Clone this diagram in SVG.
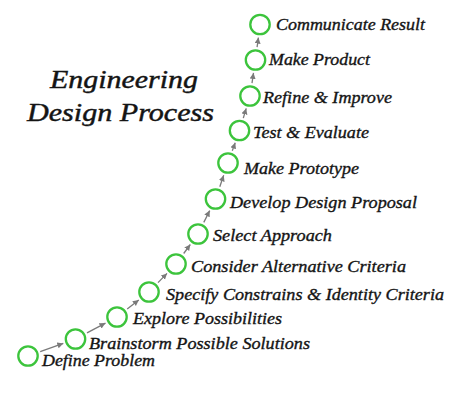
<svg xmlns="http://www.w3.org/2000/svg" width="474" height="401" viewBox="0 0 474 401">
<defs>
<style>
.node circle{fill:#fff;stroke:#3cc43c;stroke-width:2.3}
.lbl{font-size:17px;fill:#141414;stroke:#141414;stroke-width:0.35}
.ttl{font-size:26px;fill:#141414;stroke:#141414;stroke-width:0.45}
.conn line{stroke:#7a7a7a;stroke-width:1.3;fill:none}
</style>
<marker id="ah" markerUnits="userSpaceOnUse" markerWidth="8" markerHeight="8" refX="6" refY="3" orient="auto">
<path d="M0,0 L6,3 L0,6 Z" fill="#7a7a7a"/>
</marker>
</defs>
<rect width="474" height="401" fill="#fff"/>
<g font-family="Liberation Serif, serif" font-style="italic">
<g id="title">
<text class="ttl" x="50" y="88" textLength="148" lengthAdjust="spacingAndGlyphs">Engineering</text>
<text class="ttl" x="27" y="121" textLength="187" lengthAdjust="spacingAndGlyphs">Design Process</text>
</g>
<g id="connectors" class="conn">
<line x1="40.2" y1="351.6" x2="63.3" y2="343.4" marker-end="url(#ah)"/>
<line x1="87" y1="332.9" x2="105.5" y2="323.1" marker-end="url(#ah)"/>
<line x1="127.2" y1="309" x2="138.8" y2="300" marker-end="url(#ah)"/>
<line x1="158" y1="282.6" x2="167" y2="273.4" marker-end="url(#ah)"/>
<line x1="183.7" y1="253.5" x2="190.3" y2="244.5" marker-end="url(#ah)"/>
<line x1="203.8" y1="222.4" x2="209.7" y2="210.6" marker-end="url(#ah)"/>
<line x1="219.8" y1="186.7" x2="223.7" y2="175.3" marker-end="url(#ah)"/>
<line x1="232.3" y1="150.8" x2="235.2" y2="142.7" marker-end="url(#ah)"/>
<line x1="243.3" y1="118.1" x2="246.2" y2="108.4" marker-end="url(#ah)"/>
<line x1="252" y1="83.1" x2="253.5" y2="72.9" marker-end="url(#ah)"/>
<line x1="257.1" y1="47.1" x2="258.4" y2="37.6" marker-end="url(#ah)"/>
</g>
<g id="n1" class="node"><circle cx="28" cy="356" r="9.7"/><text class="lbl" x="42" y="366" textLength="113" lengthAdjust="spacingAndGlyphs">Define Problem</text></g>
<g id="n2" class="node"><circle cx="75.5" cy="339" r="9.7"/><text class="lbl" x="89" y="349" textLength="221" lengthAdjust="spacingAndGlyphs">Brainstorm Possible Solutions</text></g>
<g id="n3" class="node"><circle cx="117" cy="317" r="9.7"/><text class="lbl" x="133" y="324" textLength="149" lengthAdjust="spacingAndGlyphs">Explore Possibilities</text></g>
<g id="n4" class="node"><circle cx="149" cy="292" r="9.7"/><text class="lbl" x="166" y="300" textLength="278" lengthAdjust="spacingAndGlyphs">Specify Constrains &amp; Identity Criteria</text></g>
<g id="n5" class="node"><circle cx="176" cy="264" r="9.7"/><text class="lbl" x="191" y="272" textLength="215" lengthAdjust="spacingAndGlyphs">Consider Alternative Criteria</text></g>
<g id="n6" class="node"><circle cx="198" cy="234" r="9.7"/><text class="lbl" x="213" y="241" textLength="119" lengthAdjust="spacingAndGlyphs">Select Approach</text></g>
<g id="n7" class="node"><circle cx="215.5" cy="199" r="9.7"/><text class="lbl" x="230" y="208" textLength="187" lengthAdjust="spacingAndGlyphs">Develop Design Proposal</text></g>
<g id="n8" class="node"><circle cx="228" cy="163" r="9.7"/><text class="lbl" x="244" y="174" textLength="115" lengthAdjust="spacingAndGlyphs">Make Prototype</text></g>
<g id="n9" class="node"><circle cx="239.5" cy="130.5" r="9.7"/><text class="lbl" x="253" y="138" textLength="116" lengthAdjust="spacingAndGlyphs">Test &amp; Evaluate</text></g>
<g id="n10" class="node"><circle cx="250" cy="96" r="9.7"/><text class="lbl" x="263" y="103" textLength="129" lengthAdjust="spacingAndGlyphs">Refine &amp; Improve</text></g>
<g id="n11" class="node"><circle cx="255.5" cy="60" r="9.7"/><text class="lbl" x="269" y="65" textLength="101" lengthAdjust="spacingAndGlyphs">Make Product</text></g>
<g id="n12" class="node"><circle cx="260" cy="24.5" r="9.7"/><text class="lbl" x="276" y="30" textLength="149" lengthAdjust="spacingAndGlyphs">Communicate Result</text></g>
</g>
</svg>
